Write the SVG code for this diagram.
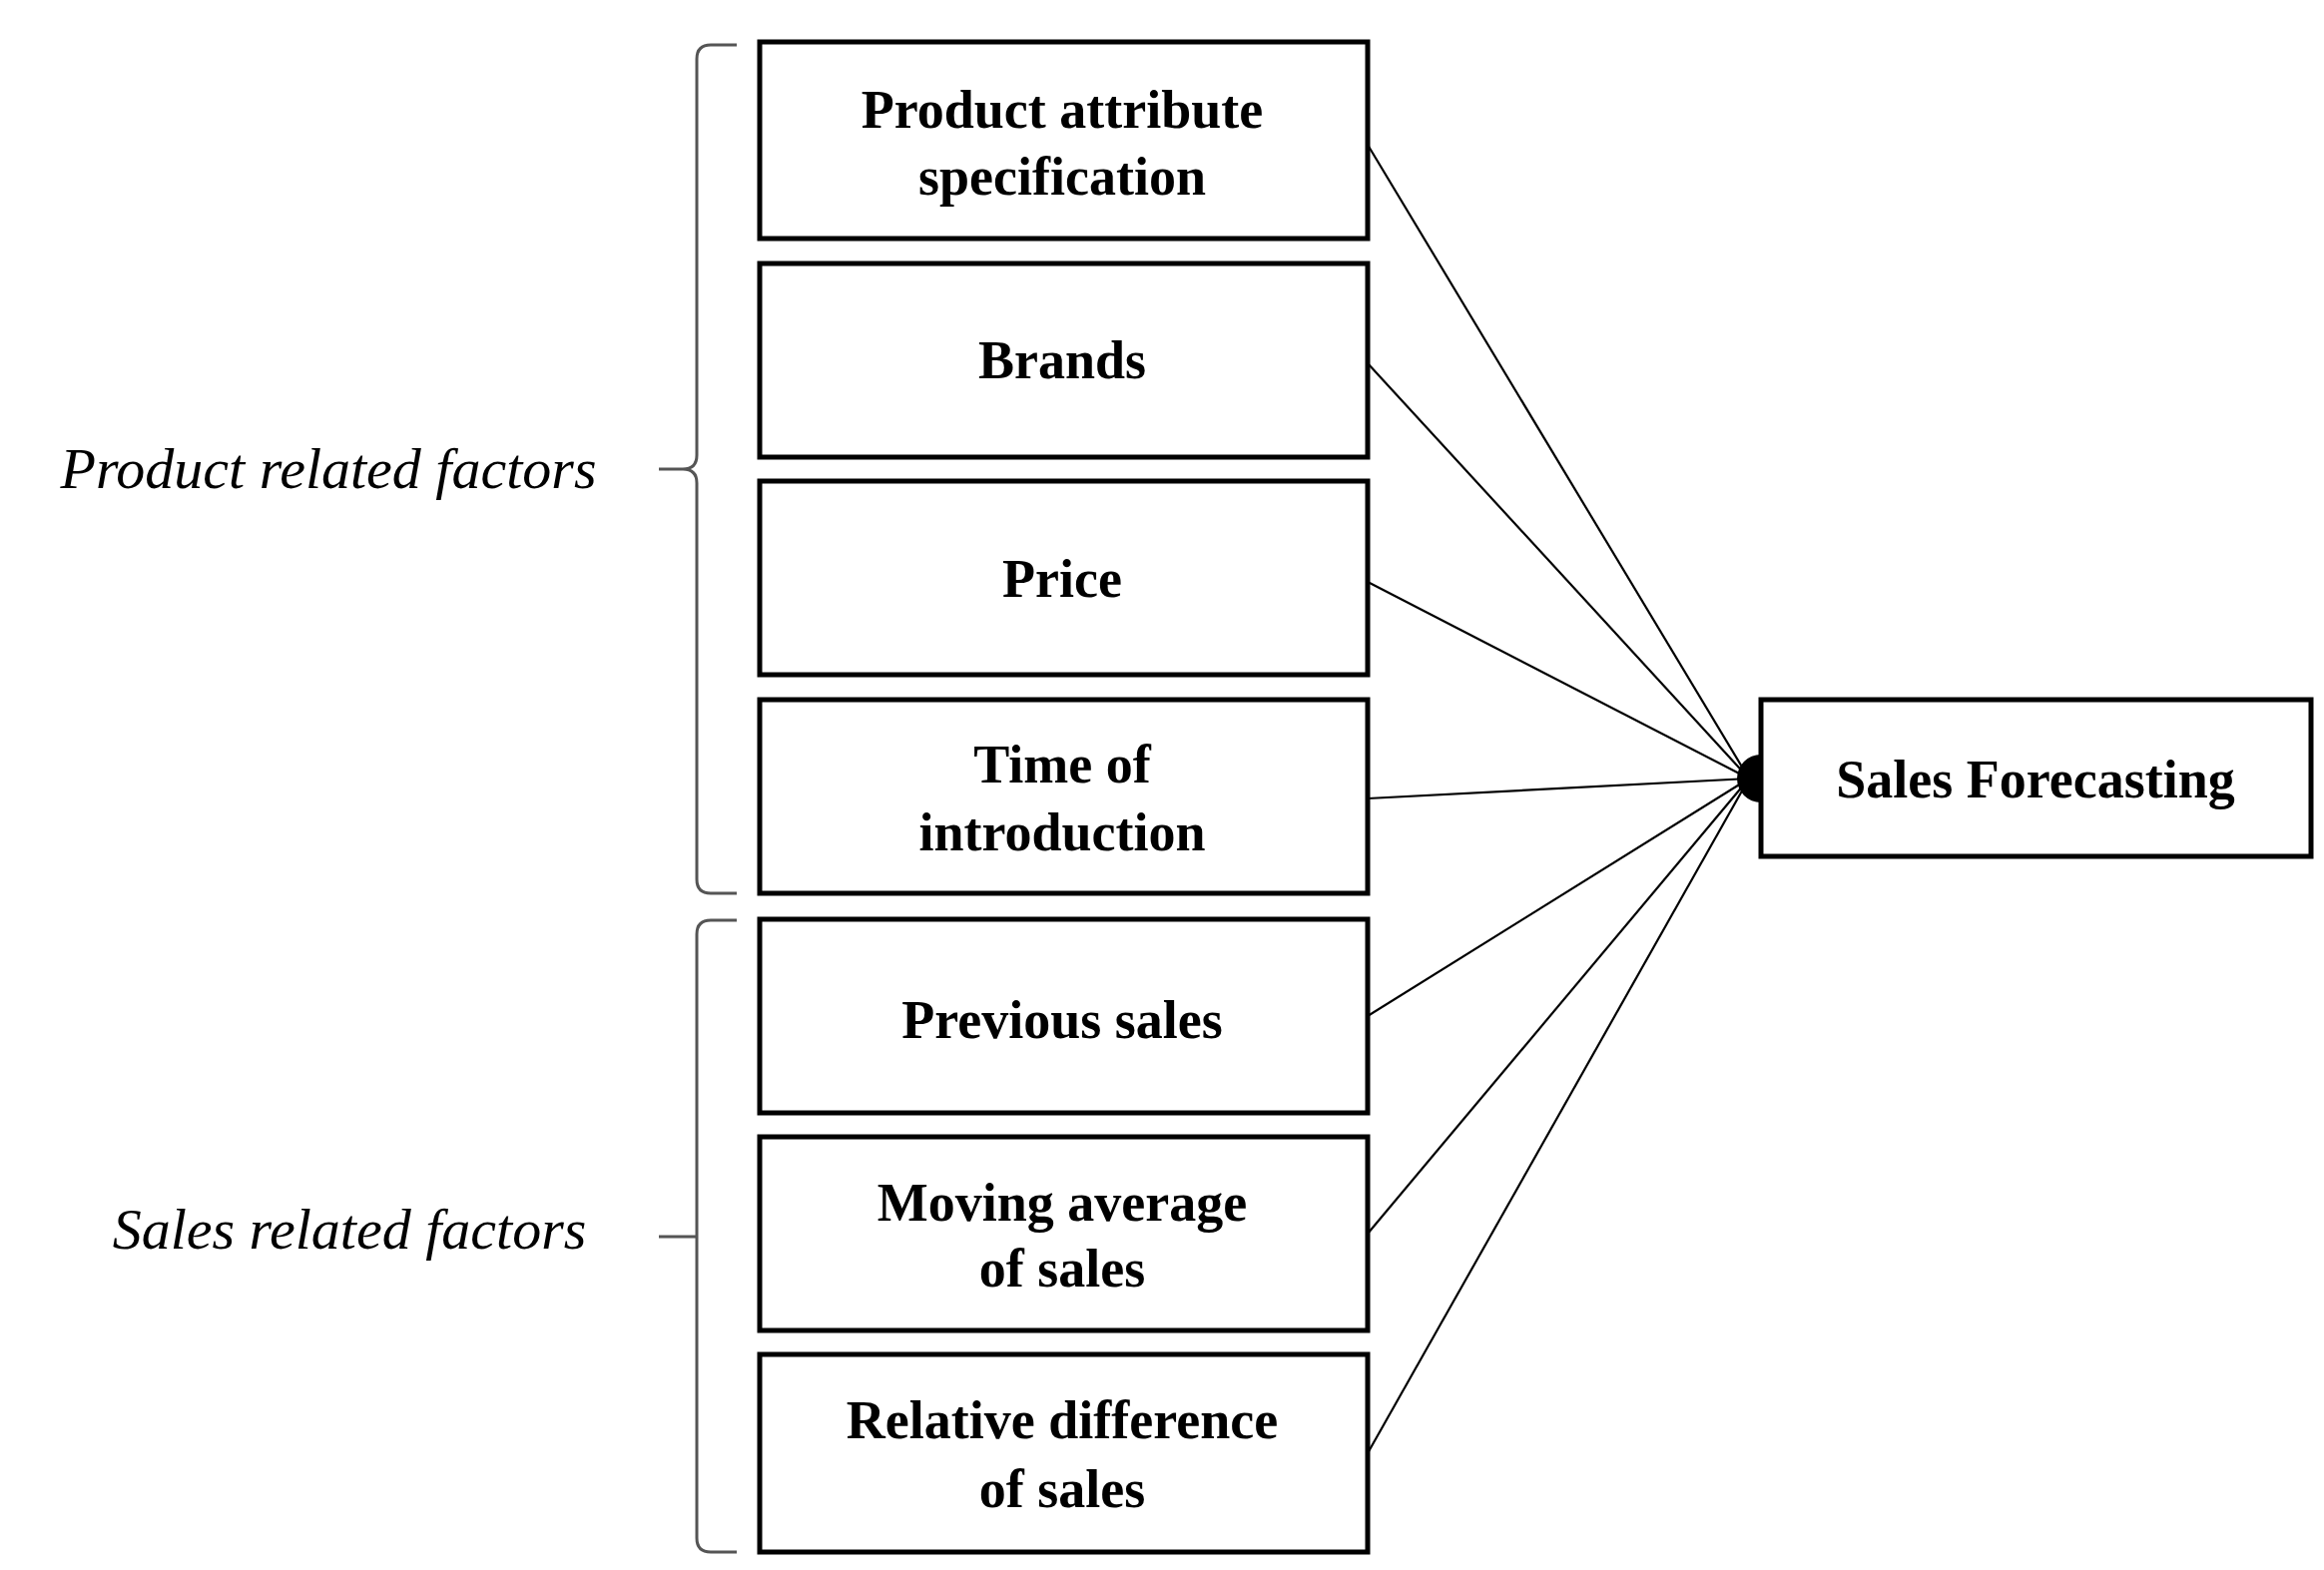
<svg xmlns="http://www.w3.org/2000/svg" width="2328" height="1573" viewBox="0 0 2328 1573">
<style>
.box{fill:#fff;stroke:#000;stroke-width:5}
.t{font-family:"Liberation Serif",serif;font-weight:bold;font-size:54px;text-anchor:middle;fill:#000}
.lab{font-family:"Liberation Serif",serif;font-style:italic;font-size:58px;text-anchor:middle;fill:#000}
.c{stroke:#000;stroke-width:2.2;fill:none}
.br{stroke:#555;stroke-width:3;fill:none}
</style>
<rect width="2328" height="1573" fill="#fff"/>
<g id="connectors">
<line class="c" x1="1370" y1="145" x2="1752" y2="780"/>
<line class="c" x1="1370" y1="364" x2="1752" y2="780"/>
<line class="c" x1="1370" y1="583" x2="1752" y2="780"/>
<line class="c" x1="1370" y1="800" x2="1752" y2="780"/>
<line class="c" x1="1370" y1="1018" x2="1752" y2="780"/>
<line class="c" x1="1370" y1="1236" x2="1752" y2="780"/>
<line class="c" x1="1370" y1="1456" x2="1752" y2="780"/>
<circle cx="1764" cy="780" r="24" fill="#000"/>
</g>
<g id="brackets">
<path class="br" d="M738 45 H712 Q698 45 698 59 V456 Q698 470 684 470 H660 M684 470 Q698 470 698 484 V881 Q698 895 712 895 H738"/>
<path class="br" d="M738 922 H712 Q698 922 698 936 V1541 Q698 1555 712 1555 H738 M660 1239 H698"/>
</g>
<g id="label-product"><text class="lab" x="329" y="489">Product related factors</text></g>
<g id="label-sales"><text class="lab" x="350" y="1251">Sales related factors</text></g>
<g id="n1"><rect class="box" x="761" y="42" width="609" height="197"/><text class="t" x="1064" y="128">Product attribute</text><text class="t" x="1064" y="195">specification</text></g>
<g id="n2"><rect class="box" x="761" y="264" width="609" height="194"/><text class="t" x="1064" y="379">Brands</text></g>
<g id="n3"><rect class="box" x="761" y="482" width="609" height="194"/><text class="t" x="1064" y="598">Price</text></g>
<g id="n4"><rect class="box" x="761" y="701" width="609" height="194"/><text class="t" x="1064" y="784">Time of</text><text class="t" x="1064" y="852">introduction</text></g>
<g id="n5"><rect class="box" x="761" y="921" width="609" height="194"/><text class="t" x="1064" y="1040">Previous sales</text></g>
<g id="n6"><rect class="box" x="761" y="1139" width="609" height="194"/><text class="t" x="1064" y="1223">Moving average</text><text class="t" x="1064" y="1289">of sales</text></g>
<g id="n7"><rect class="box" x="761" y="1357" width="609" height="198"/><text class="t" x="1064" y="1441">Relative difference</text><text class="t" x="1064" y="1510">of sales</text></g>
<g id="sales"><rect class="box" x="1764" y="701" width="551" height="157"/><text class="t" x="2039" y="799">Sales Forecasting</text></g>
</svg>
